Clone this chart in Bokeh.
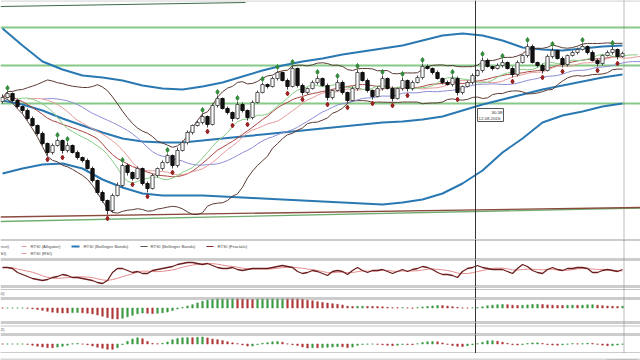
import numpy as np
import pandas as pd
from bokeh.plotting import figure
from bokeh.layouts import column
from bokeh.models import Range1d, Span
from bokeh.core.properties import value
from bokeh.embed import file_html
from bokeh.resources import INLINE

# ---------------- data ----------------
CLOSE = [903, 907, 900, 894, 890, 882, 875, 867, 857, 848,
         855, 860, 850, 855, 848, 843, 840, 832, 820, 808,
         800, 790, 805, 815, 835, 828, 822, 832, 817, 812,
         825, 832, 838, 845, 835, 850, 858, 868, 875, 878,
         884, 876, 895, 902, 892, 888, 882, 896, 890, 883,
         898, 908, 916, 914, 922, 928, 920, 914, 932, 915,
         908, 912, 918, 922, 915, 903, 910, 918, 908, 900,
         912, 928, 920, 910, 904, 912, 922, 912, 902, 912,
         920, 912, 918, 923, 934, 932, 928, 922, 918, 916,
         922, 908, 914, 918, 925, 930, 940, 934, 932, 935,
         938, 932, 926, 938, 945, 954, 938, 935, 930, 944,
         950, 942, 936, 945, 948, 951, 954, 948, 940, 937,
         945, 948, 951, 944, 947]
FIRST_OPEN = 899
WICK_HI = [3, 2, 1, 2, 1, 2, 2, 1, 2, 1, 2, 2, 1, 3, 1, 2, 1, 2, 2, 1,
           2, 1, 2, 3, 2, 2, 1, 2, 1, 2, 2, 1, 2, 2, 1, 3, 2, 2, 1, 2,
           3, 1, 2, 3, 1, 2, 1, 3, 2, 1, 2, 2, 2, 1, 2, 2, 1, 2, 3, 1,
           2, 1, 2, 3, 1, 2, 1, 3, 2, 1, 2, 3, 1, 2, 1, 2, 3, 1, 2, 1,
           3, 1, 2, 2, 3, 2, 1, 2, 1, 2, 3, 2, 1, 2, 2, 1, 3, 2, 1, 2,
           3, 1, 2, 2, 1, 3, 2, 1, 2, 2, 3, 1, 2, 1, 2, 2, 3, 1, 2, 2,
           1, 2, 3, 1, 2]
WICK_LO = [2, 1, 2, 2, 3, 2, 1, 2, 2, 3, 2, 1, 3, 2, 1, 2, 2, 1, 2, 2,
           2, 4, 2, 1, 2, 3, 2, 1, 2, 4, 1, 2, 2, 1, 3, 2, 1, 2, 2, 1,
           2, 3, 1, 2, 1, 2, 3, 1, 2, 3, 2, 1, 1, 2, 1, 2, 1, 3, 1, 2,
           3, 2, 1, 2, 1, 3, 2, 1, 2, 3, 1, 2, 1, 2, 3, 1, 2, 1, 3, 1,
           2, 3, 2, 1, 2, 1, 2, 1, 2, 1, 2, 3, 2, 1, 2, 1, 2, 1, 2, 1,
           2, 1, 3, 2, 1, 2, 1, 2, 3, 1, 2, 1, 3, 2, 1, 2, 1, 2, 1, 3,
           2, 1, 2, 3, 1]
FRACTAL_UP = [1, 11, 13, 24, 33, 40, 43, 47, 52, 55, 58, 63, 67, 71, 76,
              80, 84, 90, 96, 100, 105, 110, 116, 122]
FRACTAL_DOWN = [9, 12, 21, 26, 29, 34, 41, 46, 49, 57, 60, 65, 69, 74, 78,
                81, 91, 102, 108, 112, 119, 123]

LEVELS = [973, 935, 897]

BB_LONG_IDX = [0, 4, 8, 12, 16, 20, 24, 28, 32, 36, 40, 44, 48, 52, 56, 60,
               64, 68, 72, 76, 80, 84, 88, 92, 96, 100, 104, 108, 112, 116, 120, 124]
BB_LONG_UPPER = [972, 955, 939, 931, 925, 923, 920, 915, 912, 911, 914, 918, 924, 930, 935, 939,
                 942, 946, 949, 952, 955, 960, 965, 967, 965, 960, 953, 951, 950, 952, 954, 955]
BB_LONG_MID = [900, 896, 890, 882, 875, 868, 862, 859, 858, 858, 860, 862, 864, 866, 868, 870,
               872, 874, 876, 878, 879, 881, 884, 890, 896, 901, 906, 911, 915, 919, 923, 926]
BB_LONG_LOWER = [827, 832, 836, 837, 832, 821, 813, 807, 805, 805, 805, 804, 803, 802, 801, 800,
                 799, 798, 797, 796, 798, 801, 807, 817, 830, 848, 862, 878, 885, 889, 894, 897]

TREND_TOP_X = [-0.4, 48.6]
TREND_TOP_Y = [994, 998]
TREND_LOW_RED_X = [-0.4, 127.6]
TREND_LOW_RED_Y = [783.5, 793]
TREND_LOW_GREEN_X = [-0.4, 127.6]
TREND_LOW_GREEN_Y = [779, 792.5]

RSI = [66, 66, 64, 56, 52, 48, 44, 42, 40, 42, 46, 48, 52, 50, 46, 46, 44, 42, 40, 36,
       34, 40, 56, 64, 64, 60, 56, 58, 54, 54, 60, 62, 64, 66, 68, 72, 74, 76, 76, 74,
       72, 74, 70, 66, 64, 64, 66, 62, 60, 62, 64, 64, 64, 64, 66, 68, 70, 68, 66, 58,
       54, 56, 60, 58, 54, 50, 58, 60, 58, 52, 60, 66, 60, 56, 60, 60, 62, 58, 54, 58,
       62, 58, 62, 64, 68, 66, 62, 56, 52, 52, 50, 46, 58, 64, 66, 70, 66, 64, 62, 62,
       62, 58, 54, 64, 72, 68, 60, 56, 54, 62, 66, 62, 60, 64, 64, 66, 66, 64, 56, 56,
       60, 62, 60, 58, 62]

CURSOR_BAR = 94.6
LAST_BAR_EDGE = 124.3
CURSOR_PRICE = "30.38"
CURSOR_DATE = "12.08.2016"

LEGEND_ROW1 = ["rice)", "RTSI (Alligator)", "RTSI (Bollinger Bands)",
               "RTSI (Bollinger Bands)", "RTSI (Fractals)"]
LEGEND_ROW2 = ["SI)", "RTSI (RSI)"]
PANEL_LABELS = ["0)", "2)"]

# ---------------- styling / layout ----------------
W = 640
FONT = "Liberation Sans"
FS = "4.4px"
TXT = "#4a4a4a"
SEP = "#9a9a9a"


def px(v):
    return v / 5.0 - 0.4


xr = Range1d(-0.4, 127.6)


def fig(h, y0, y1):
    p = figure(width=W, height=h, x_range=xr, y_range=Range1d(y0, y1),
               toolbar_location=None, output_backend="svg",
               x_axis_location=None, y_axis_location=None,
               min_border=0, min_border_left=0, min_border_right=0,
               min_border_top=0, min_border_bottom=0)
    p.grid.visible = False
    p.outline_line_color = None
    p.background_fill_color = "white"
    p.border_fill_color = "white"
    return p


def vlines(p):
    p.add_layout(Span(location=LAST_BAR_EDGE, dimension="height", line_color="#777777",
                      line_dash="1 1", line_width=1))
    p.add_layout(Span(location=CURSOR_BAR, dimension="height", line_color="#333333",
                      line_width=1))


def hline(p, y, w=2, c=SEP):
    p.add_layout(Span(location=y, dimension="width", line_color=c, line_width=w))


# ---------------- computations ----------------
n = len(CLOSE)
idx = np.arange(n)
close = np.array(CLOSE, dtype=float)
open_ = np.r_[FIRST_OPEN, close[:-1]]
high = np.maximum(open_, close) + np.array(WICK_HI)
low = np.minimum(open_, close) - np.array(WICK_LO)
up = close >= open_

median = pd.Series((high + low) / 2.0)


def smma(s, k):
    return s.ewm(alpha=1.0 / k, adjust=False).mean()


jaw = smma(median, 13)
teeth = smma(median, 8)
lips = smma(median, 5)

cs = pd.Series(close)
bb_mid = cs.rolling(20, min_periods=1).mean()
bb_sd = cs.rolling(20, min_periods=1).std(ddof=0)
bb_up = bb_mid + 2 * bb_sd
bb_lo = bb_mid - 2 * bb_sd

ao = median.rolling(5, min_periods=1).mean() - median.rolling(34, min_periods=1).mean()
ac = ao - ao.rolling(5, min_periods=1).mean()
rsi = pd.Series(RSI, dtype=float)
rsi_sig = rsi.rolling(7, min_periods=1).mean()

# ---------------- main panel ----------------
main = fig(239, 761, 1000)
hline(main, 999.6, 1, "#bdbdbd")
for lv in LEVELS:
    main.line([-0.4, 127.6], [lv, lv], line_color="#86c986", line_width=2.2)
main.line(TREND_TOP_X, TREND_TOP_Y, line_color="#3d6b48", line_width=1.2)
main.line(TREND_LOW_GREEN_X, TREND_LOW_GREEN_Y, line_color="#6fae6f", line_width=1.3)
main.line(TREND_LOW_RED_X, TREND_LOW_RED_Y, line_color="#8a4a3e", line_width=1.3)

for arr in (BB_LONG_UPPER, BB_LONG_MID, BB_LONG_LOWER):
    main.line(BB_LONG_IDX, arr, line_color="#2a78b2", line_width=2)

main.line(idx, bb_up, line_color="#5a3b33", line_width=1)
main.line(idx, bb_lo, line_color="#5a3b33", line_width=1)
main.line(idx, bb_mid, line_color="#a8443f", line_width=1)
main.line(idx + 8, jaw, line_color="#8c8cd6", line_width=1)
main.line(idx + 5, teeth, line_color="#e59a9a", line_width=1)
main.line(idx + 3, lips, line_color="#86cc86", line_width=1)

main.segment(idx, high, idx, low, line_color="#444444", line_width=1)
main.vbar(x=idx[up], width=0.65, top=close[up], bottom=open_[up],
          fill_color="white", line_color="#555555", line_width=1)
main.vbar(x=idx[~up], width=0.65, top=open_[~up], bottom=close[~up],
          fill_color="#111111", line_color="#111111", line_width=1)

fu = np.array(FRACTAL_UP)
fd = np.array(FRACTAL_DOWN)
main.scatter(fu, high[fu] + 3.5, marker="diamond", size=5, fill_color="#2f8a3a",
             line_color="#2f8a3a")
main.scatter(fd, low[fd] - 4, marker="diamond", size=5, fill_color="#9a2424",
             line_color="#9a2424")
vlines(main)

# cursor price/date tag
main.quad(left=[px(477)], right=[px(503)], top=[892], bottom=[879],
          fill_color="white", line_color="#555555", line_width=1)
main.text(x=[px(502), px(478)], y=[888.5, 882.5], text=[CURSOR_PRICE, CURSOR_DATE],
          text_font=value(FONT), text_font_size=FS, text_color="#333333",
          text_align=["right", "left"], text_baseline="middle")

# ---------------- legend strip ----------------
leg = fig(20, 20, 0)
hline(leg, 0)
hline(leg, 20)
vlines(leg)
sw_x0 = [px(21), px(71), px(140), px(206), px(21)]
sw_x1 = [px(26), px(79), px(147), px(213), px(26)]
sw_y = [7, 7, 7, 7, 14]
sw_c = ["#e59a9a", "#2a78b2", "#555555", "#8b2b2b", "#e39a9a"]
sw_w = [1, 2, 1.2, 1.2, 1]
leg.segment(sw_x0, sw_y, sw_x1, sw_y, line_color=sw_c, line_width=sw_w)
leg.text(x=[px(0), px(30), px(83), px(150), px(217)], y=[7] * 5, text=LEGEND_ROW1,
         text_font=value(FONT), text_font_size=FS, text_color=TXT,
         text_baseline="middle", text_align="left")
leg.text(x=[px(0), px(30)], y=[14, 14], text=LEGEND_ROW2,
         text_font=value(FONT), text_font_size=FS, text_color=TXT,
         text_baseline="middle", text_align="left")

# ---------------- RSI panel ----------------
prs = fig(27, 28, 82)
hline(prs, 82)
hline(prs, 28)
vlines(prs)
prs.line(idx, rsi_sig, line_color="#e38b8b", line_width=1)
prs.line(idx, rsi, line_color="#6b1d1d", line_width=1.3)

# ---------------- label strip 1 ----------------
s1 = fig(12, 12, 0)
hline(s1, 0)
hline(s1, 3, 1, "#c4c4c4")
hline(s1, 12)
vlines(s1)
s1.text(x=[px(0)], y=[6.8], text=[PANEL_LABELS[0]], text_font=value(FONT),
        text_font_size=FS, text_color=TXT, text_baseline="middle", text_align="left")

# ---------------- AO panel ----------------
neg = max(float(-ao.min()), 1e-6)
u = neg / 11.0
pao = fig(24, -14.5 * u, 9.5 * u)
hline(pao, 9.5 * u)
hline(pao, -14.5 * u)
vlines(pao)
ao_col = ["#3d9a45" if (i > 0 and ao[i] >= ao[i - 1]) else "#b03a3a" for i in range(n)]
pao.vbar(x=idx, width=0.3, top=np.maximum(ao, 0), bottom=np.minimum(ao, 0),
         fill_color=ao_col, line_color=ao_col, line_width=0.6)

# ---------------- label strip 2 ----------------
s2 = fig(12, 12, 0)
hline(s2, 0)
hline(s2, 3.5, 1, "#c4c4c4")
hline(s2, 12)
vlines(s2)
s2.text(x=[px(0)], y=[7], text=[PANEL_LABELS[1]], text_font=value(FONT),
        text_font_size=FS, text_color=TXT, text_baseline="middle", text_align="left")

# ---------------- AC panel ----------------
m = max(float(ac.abs().max()), 1e-6)
v = m / 7.0
pac = fig(19, -9.5 * v, 9.5 * v)
hline(pac, 9.5 * v)
hline(pac, -9.5 * v)
vlines(pac)
ac_col = ["#3d9a45" if (i > 0 and ac[i] >= ac[i - 1]) else "#b03a3a" for i in range(n)]
pac.vbar(x=idx, width=0.3, top=np.maximum(ac, 0), bottom=np.minimum(ac, 0),
         fill_color=ac_col, line_color=ac_col, line_width=0.6)

# ---------------- scroll strip ----------------
sc = fig(7, 7, 0)
sc.background_fill_color = "#d6d6d6"
sc.quad(left=[px(606)], right=[px(637)], top=[1.5], bottom=[5.5],
        fill_color="#f2f2f2", line_color="#a8a8a8", line_width=1)

layout = column(main, leg, prs, s1, pao, s2, pac, sc, spacing=0)
open("out.html", "w").write(file_html(layout, INLINE))
